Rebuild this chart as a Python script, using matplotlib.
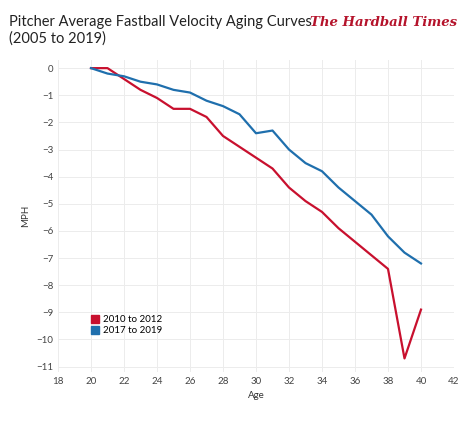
import matplotlib.pyplot as plt
from matplotlib.patches import Patch

ages = list(range(20, 41))
red_vals = [0, 0, -0.4, -0.8, -1.1, -1.5, -1.5, -1.8, -2.5, -2.9, -3.3, -3.7,
            -4.4, -4.9, -5.3, -5.9, -6.4, -6.9, -7.4, -10.7, -8.9]
blue_vals = [0, -0.2, -0.3, -0.5, -0.6, -0.8, -0.9, -1.2, -1.4, -1.7, -2.4, -2.3,
             -3.0, -3.5, -3.8, -4.4, -4.9, -5.4, -6.2, -6.8, -7.2]

plt.rcParams['font.family'] = ['Lato', 'DejaVu Sans']
fig = plt.figure(figsize=(4.74, 4.25), dpi=100)
ax = fig.add_axes([58/474, 1-372/425, 396/474, 312/425])

ax.plot(ages, red_vals, color='#c8102e', lw=1.6)
ax.plot(ages, blue_vals, color='#1f6fad', lw=1.6)

ax.set_xlim(18, 42)
ax.set_ylim(-11.2, 0.3)
ax.set_xticks(range(18, 43, 2))
ax.set_yticks(range(-11, 1))
ax.grid(True, color='#ececec', lw=0.7)
for s in ax.spines.values():
    s.set_visible(False)
ax.tick_params(length=0, labelsize=7, colors='#444444')
ax.set_xlabel('Age', fontsize=7, color='#333333')
ax.set_ylabel('MPH', fontsize=7, color='#333333')

handles = [Patch(color='#c8102e', label='2010 to 2012'),
           Patch(color='#1f6fad', label='2017 to 2019')]
ax.legend(handles=handles, loc='lower left', bbox_to_anchor=(0.06, 0.09), frameon=False,
          fontsize=7, handlelength=0.9, handleheight=0.9, handletextpad=0.4,
          labelspacing=0.15)

fig.text(0.02, 0.965, 'Pitcher Average Fastball Velocity Aging Curves\n(2005 to 2019)',
         fontsize=10.5, va='top', ha='left', color='#222222', linespacing=1.25)
fig.text(0.965, 0.962, 'The Hardball Times', fontsize=9.5, va='top', ha='right',
         color='#b5132b', family='DejaVu Serif', style='italic', weight='bold')

fig.savefig('out.png', dpi=100)
